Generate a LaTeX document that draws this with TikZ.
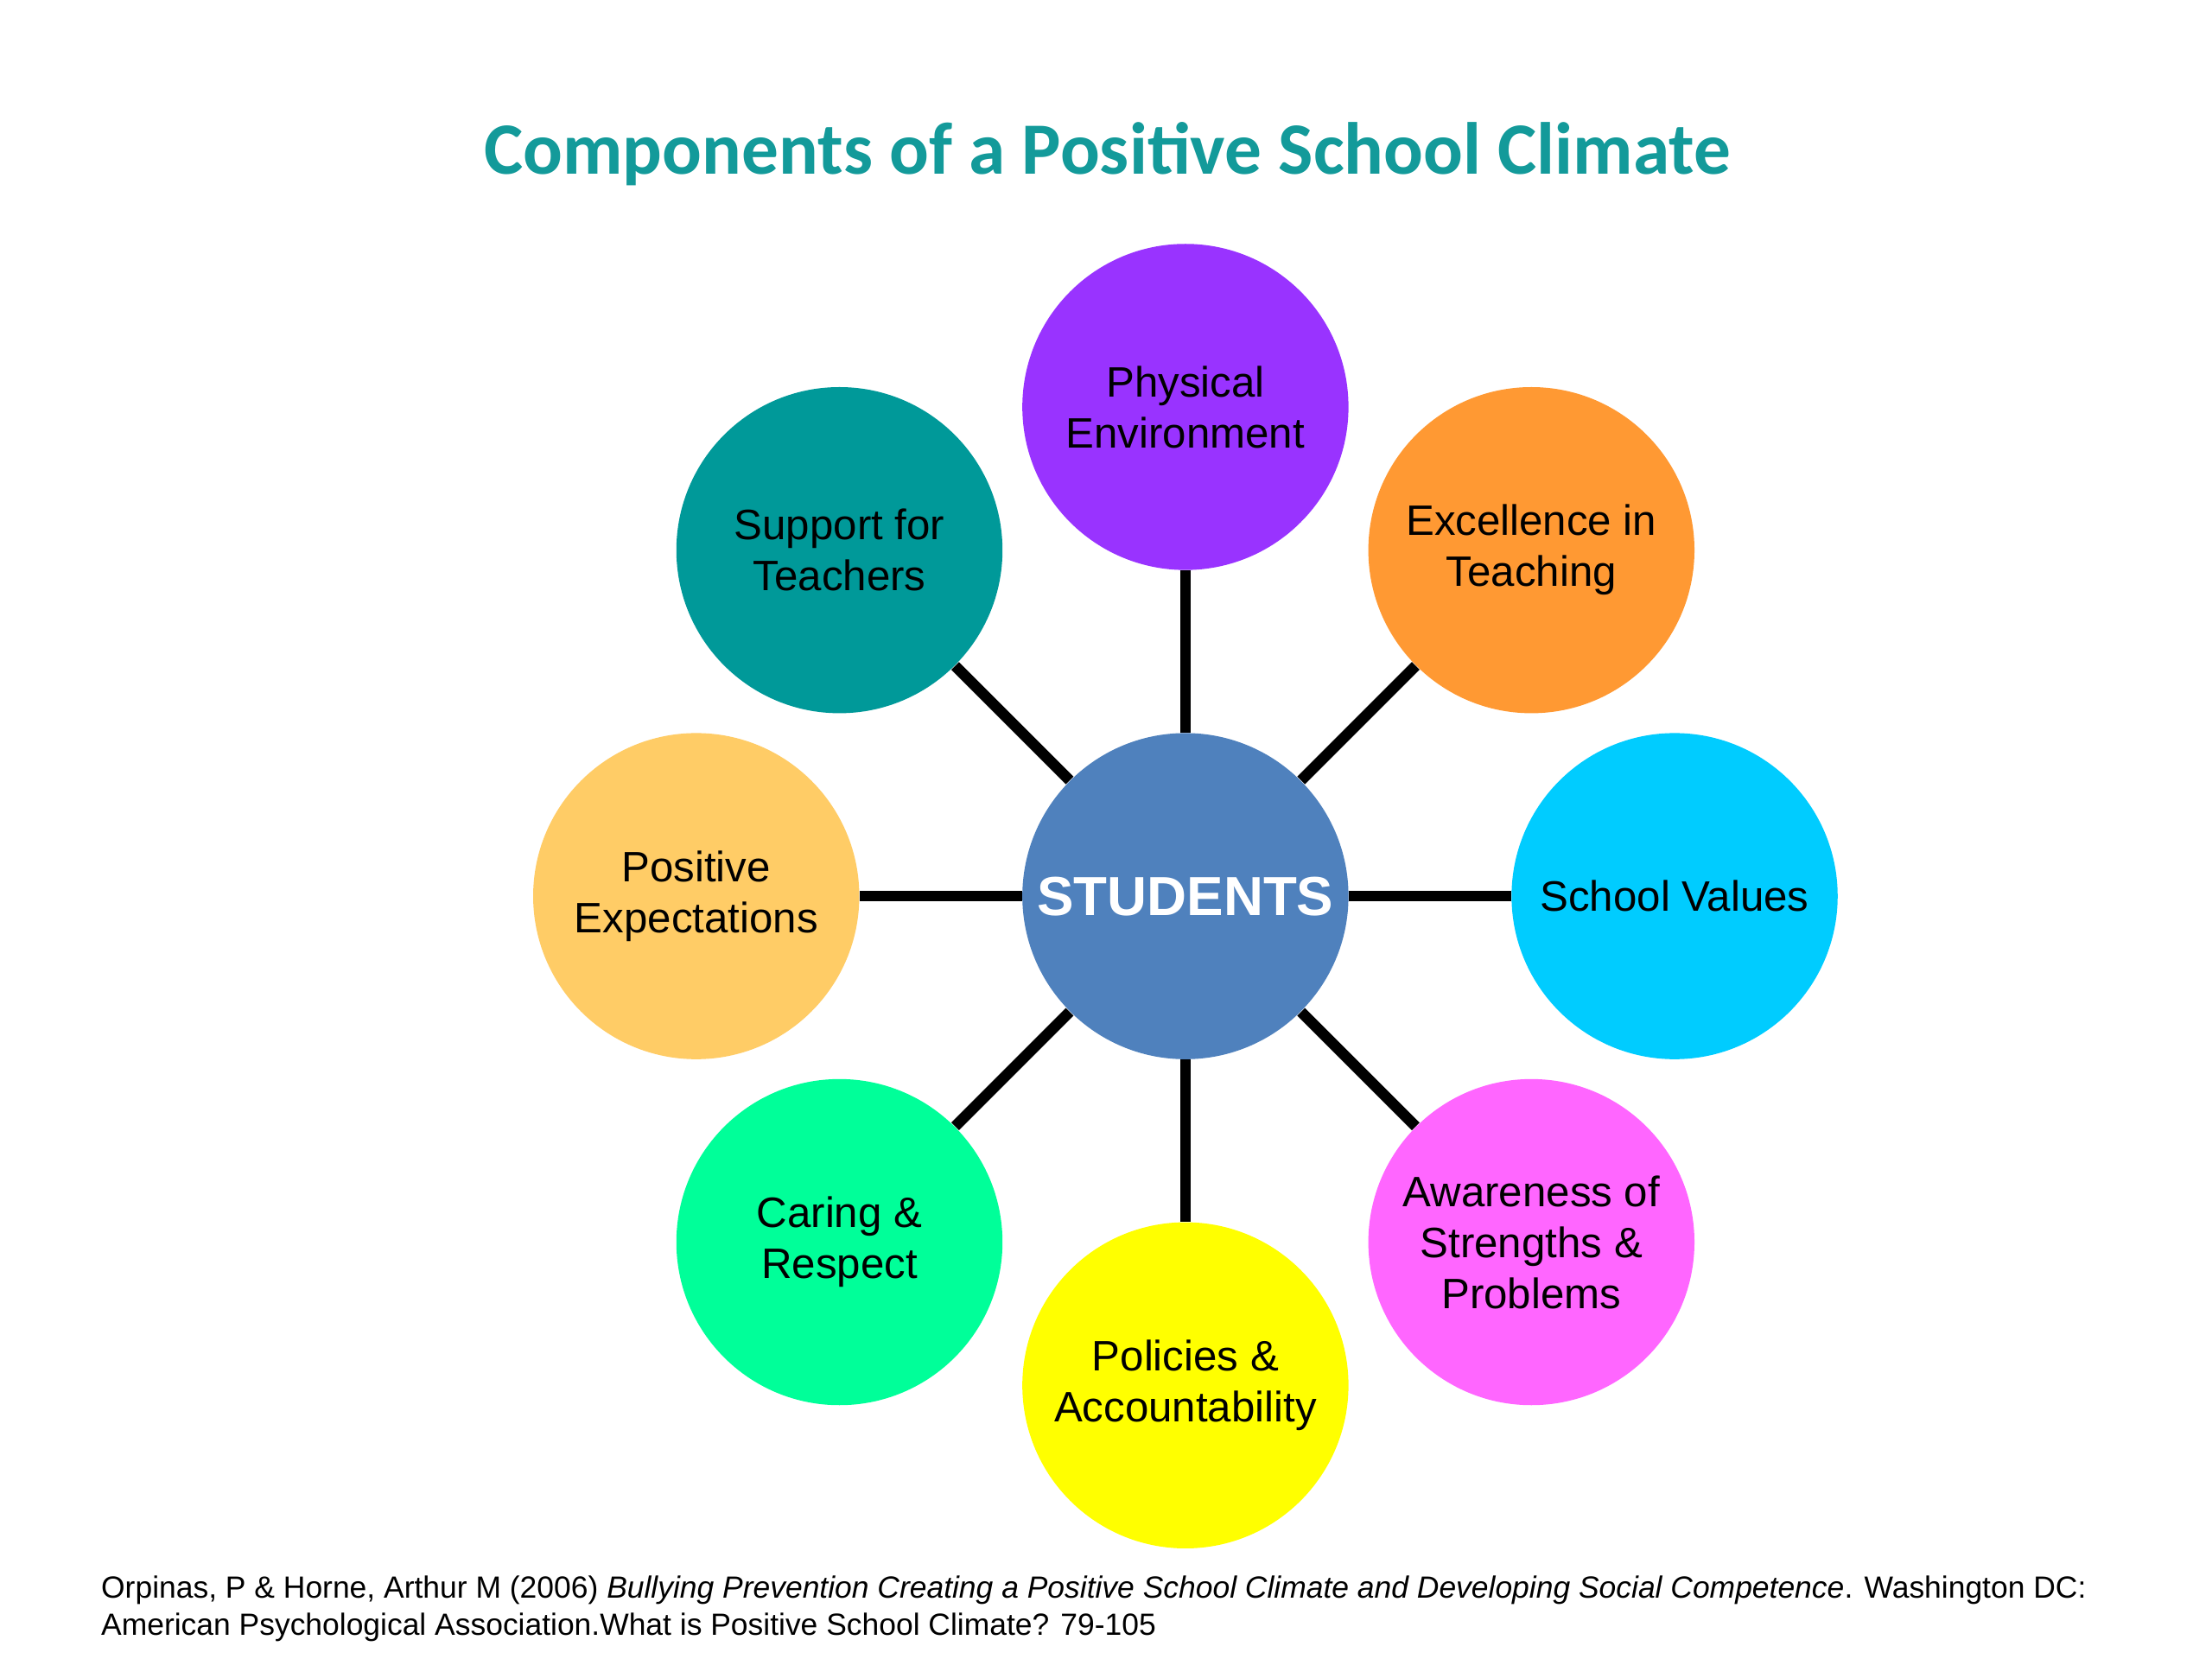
\documentclass[tikz,border=0pt]{standalone}
\usepackage{fontspec}
\setmainfont{Liberation Sans}
\newfontfamily\titlefont{Carlito}
\definecolor{titleteal}{HTML}{139A9A}
\definecolor{cPhys}{HTML}{9933FF}
\definecolor{cExc}{HTML}{FF9933}
\definecolor{cVal}{HTML}{00CCFF}
\definecolor{cAwa}{HTML}{FF66FF}
\definecolor{cPol}{HTML}{FFFF00}
\definecolor{cCar}{HTML}{00FF99}
\definecolor{cExp}{HTML}{FFCC66}
\definecolor{cSup}{HTML}{009999}
\definecolor{cStu}{HTML}{4F81BD}
\begin{document}
\begin{tikzpicture}[x=0.5pt,y=-0.5pt,
  bubble/.style={circle,minimum size=115pt,inner sep=0pt,align=center,
    font=\fontsize{15}{18}\selectfont,text=black},
  spoke/.style={line width=3.8pt,black}]
\useasboundingbox[fill=white] (0,0) rectangle (1560,1170);
\node[font=\titlefont\bfseries\fontsize{26}{30}\selectfont,text=titleteal,anchor=base] (title) at (781,123) {Components of a Positive School Climate};
\node[bubble,fill=cStu,text=white,font=\bfseries\fontsize{19.4}{22}\selectfont] (stu) at (836,632) {STUDENTS};
\node[bubble,fill=cPhys] (phys) at (836,287) {Physical\\Environment};
\node[bubble,fill=cExc] (exc) at (1080,388) {Excellence in\\Teaching};
\node[bubble,fill=cVal] (val) at (1181,632) {School Values};
\node[bubble,fill=cAwa] (awa) at (1080,876) {Awareness of\\Strengths \&\\Problems};
\node[bubble,fill=cPol] (pol) at (836,977) {Policies \&\\Accountability};
\node[bubble,fill=cCar] (car) at (592,876) {Caring \&\\Respect};
\node[bubble,fill=cExp] (exp) at (491,632) {Positive\\Expectations};
\node[bubble,fill=cSup] (sup) at (592,388) {Support for\\Teachers};
\foreach \n in {phys,exc,val,awa,pol,car,exp,sup}
  \draw[spoke] (stu) -- (\n);
\node[anchor=north west,align=left,inner sep=0pt,font=\fontsize{10.8}{13}\selectfont] (cite) at (71,1111)
  {Orpinas, P \& Horne, Arthur M (2006) \textit{Bullying Prevention Creating a Positive School Climate and Developing Social Competence}. Washington DC:\\
   American Psychological Association.What is Positive School Climate? 79-105};
\end{tikzpicture}
\end{document}
